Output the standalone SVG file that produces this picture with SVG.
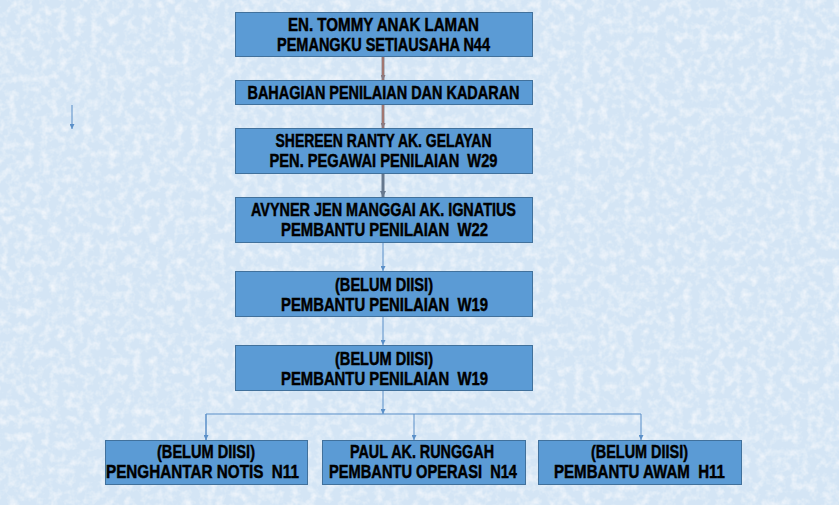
<svg xmlns="http://www.w3.org/2000/svg" width="839" height="505" viewBox="0 0 839 505">
<defs>
<filter id="tex" x="0" y="0" width="100%" height="100%">
<feTurbulence type="fractalNoise" baseFrequency="0.12" numOctaves="3" seed="4" result="n"/>
<feColorMatrix in="n" type="matrix" values="0 0 0 0 1  0 0 0 0 1  0 0 0 0 1  0 0 0 1.3 -0.55" result="w"/>
<feComposite in="w" in2="SourceGraphic" operator="over"/>
</filter>
<marker id="ab" viewBox="0 0 10 10" refX="10" refY="5" markerWidth="5" markerHeight="5" markerUnits="userSpaceOnUse" orient="auto">
<path d="M0,0 L10,5 L0,10 z" fill="#5a8fc8"/>
</marker>
<marker id="abr" viewBox="0 0 10 10" refX="10" refY="5" markerWidth="5" markerHeight="5" markerUnits="userSpaceOnUse" orient="auto">
<path d="M0,0 L10,5 L0,10 z" fill="#8a7a80"/>
</marker>
<marker id="abg" viewBox="0 0 10 10" refX="10" refY="5" markerWidth="6" markerHeight="6" markerUnits="userSpaceOnUse" orient="auto">
<path d="M0,0 L10,5 L0,10 z" fill="#66788e"/>
</marker>
</defs>
<style>
.box{fill:#5b9bd5;stroke:#41719c;stroke-width:1}
.t{font-family:"Liberation Sans",Arial,sans-serif;font-weight:bold;font-size:17.5px;fill:#000;stroke:#000;stroke-width:0.45;text-anchor:middle;white-space:pre}
.c{fill:none;stroke:#5a8fc8;stroke-width:1}
</style>
<rect x="0" y="0" width="839" height="505" fill="#d4e5f5" filter="url(#tex)"/>
<g id="connectors">
<line x1="383" y1="57" x2="383" y2="80" stroke="#8c8c94" stroke-width="3"/>
<line x1="383" y1="57" x2="383" y2="80" stroke="#b06a5a" stroke-width="1.2" marker-end="url(#abr)"/>
<line x1="383" y1="105" x2="383" y2="128" stroke="#8c8c94" stroke-width="3"/>
<line x1="383" y1="105" x2="383" y2="128" stroke="#b06a5a" stroke-width="1.2" marker-end="url(#abr)"/>
<line x1="383" y1="174" x2="383" y2="197" stroke="#66788e" stroke-width="3" marker-end="url(#abg)"/>
<line class="c" x1="383" y1="243" x2="383" y2="271" marker-end="url(#ab)"/>
<line class="c" x1="383" y1="317" x2="383" y2="345" marker-end="url(#ab)"/>
<line class="c" x1="383" y1="391" x2="383" y2="414" marker-end="url(#ab)"/>
<polyline class="c" points="206,440 206,414 641,414 641,440" marker-end="url(#ab)"/>
<line class="c" x1="206" y1="414" x2="206" y2="440" marker-end="url(#ab)"/>
<line class="c" x1="414" y1="414" x2="414" y2="440" marker-end="url(#ab)"/>
<line class="c" x1="72" y1="105" x2="72" y2="129" marker-end="url(#ab)"/>
</g>
<g id="n1">
<rect class="box" x="235.5" y="12.5" width="297" height="44"/>
<text class="t" x="383.5" y="31" textLength="191" lengthAdjust="spacingAndGlyphs">EN. TOMMY ANAK LAMAN</text>
<text class="t" x="383.5" y="51" textLength="213" lengthAdjust="spacingAndGlyphs">PEMANGKU SETIAUSAHA N44</text>
</g>
<g id="n2">
<rect class="box" x="235.5" y="80.5" width="297" height="24"/>
<text class="t" x="383.5" y="99" textLength="272" lengthAdjust="spacingAndGlyphs">BAHAGIAN PENILAIAN DAN KADARAN</text>
</g>
<g id="n3">
<rect class="box" x="235.5" y="128.5" width="297" height="45"/>
<text class="t" x="383.5" y="147" textLength="216" lengthAdjust="spacingAndGlyphs">SHEREEN RANTY AK. GELAYAN</text>
<text class="t" x="383.5" y="167" textLength="228" lengthAdjust="spacingAndGlyphs" xml:space="preserve">PEN. PEGAWAI PENILAIAN  W29</text>
</g>
<g id="n4">
<rect class="box" x="235.5" y="197.5" width="297" height="45"/>
<text class="t" x="383.5" y="216" textLength="265" lengthAdjust="spacingAndGlyphs">AVYNER JEN MANGGAI AK. IGNATIUS</text>
<text class="t" x="384.5" y="236" textLength="207" lengthAdjust="spacingAndGlyphs" xml:space="preserve">PEMBANTU PENILAIAN  W22</text>
</g>
<g id="n5">
<rect class="box" x="235.5" y="271.5" width="297" height="45"/>
<text class="t" x="384" y="291" textLength="98" lengthAdjust="spacingAndGlyphs">(BELUM DIISI)</text>
<text class="t" x="384.5" y="311" textLength="207" lengthAdjust="spacingAndGlyphs" xml:space="preserve">PEMBANTU PENILAIAN  W19</text>
</g>
<g id="n6">
<rect class="box" x="235.5" y="345.5" width="297" height="45"/>
<text class="t" x="384" y="365" textLength="98" lengthAdjust="spacingAndGlyphs">(BELUM DIISI)</text>
<text class="t" x="384.5" y="385" textLength="207" lengthAdjust="spacingAndGlyphs" xml:space="preserve">PEMBANTU PENILAIAN  W19</text>
</g>
<g id="n7">
<rect class="box" x="105.5" y="440.5" width="202" height="44"/>
<text class="t" x="206" y="458" textLength="98" lengthAdjust="spacingAndGlyphs">(BELUM DIISI)</text>
<text class="t" x="202.5" y="478" textLength="193" lengthAdjust="spacingAndGlyphs" xml:space="preserve">PENGHANTAR NOTIS  N11</text>
</g>
<g id="n8">
<rect class="box" x="322.5" y="440.5" width="203" height="44"/>
<text class="t" x="422" y="458" textLength="144" lengthAdjust="spacingAndGlyphs">PAUL AK. RUNGGAH</text>
<text class="t" x="423" y="478" textLength="188" lengthAdjust="spacingAndGlyphs" xml:space="preserve">PEMBANTU OPERASI  N14</text>
</g>
<g id="n9">
<rect class="box" x="538.5" y="440.5" width="203" height="44"/>
<text class="t" x="639.5" y="458" textLength="97" lengthAdjust="spacingAndGlyphs">(BELUM DIISI)</text>
<text class="t" x="639.5" y="478" textLength="171" lengthAdjust="spacingAndGlyphs" xml:space="preserve">PEMBANTU AWAM  H11</text>
</g>
</svg>
